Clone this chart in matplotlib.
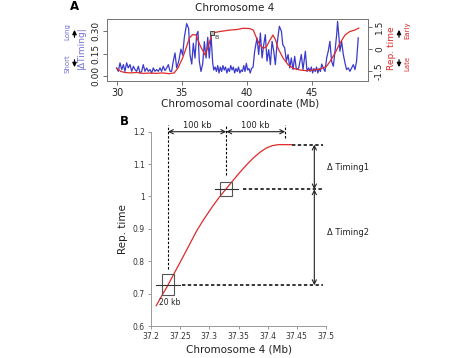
import numpy as np
import matplotlib
matplotlib.use("Agg")
import matplotlib.pyplot as plt
from matplotlib.patches import Rectangle

W, H = 474, 358

# ---------------- Panel A data ----------------
blue_x = [29.97, 30.10, 30.23, 30.36, 30.49, 30.61, 30.74, 30.87, 31.00, 31.13, 31.26, 31.38,
          31.51, 31.64, 31.77, 31.90, 32.02, 32.15, 32.28, 32.41, 32.54, 32.67, 32.79, 32.92,
          33.05, 33.18, 33.31, 33.43, 33.56, 33.69, 33.82, 33.95, 34.08, 34.20, 34.33, 34.46,
          34.59, 34.75, 34.92, 35.05, 35.18, 35.36, 35.51, 35.62, 35.75, 35.87, 36.00, 36.13,
          36.23, 36.33, 36.46, 36.59, 36.72, 36.85, 36.98, 37.10, 37.23, 37.36, 37.44,
          37.55, 37.65, 37.75, 37.85, 37.95, 38.05, 38.15, 38.25, 38.35, 38.45, 38.55, 38.65,
          38.75, 38.85, 38.95, 39.05, 39.15, 39.25, 39.35, 39.45, 39.55, 39.65, 39.75, 39.85,
          39.95, 40.05, 40.15, 40.25, 40.35, 40.47,
          40.59, 40.77, 40.90, 41.03, 41.16, 41.29, 41.41, 41.54, 41.67, 41.80, 41.93, 42.06,
          42.18, 42.31, 42.49, 42.65, 42.75, 42.90, 43.03, 43.16, 43.29, 43.41, 43.54, 43.67,
          43.80, 43.98, 44.18, 44.31, 44.49, 44.62, 44.75, 44.85, 44.95, 45.05, 45.15, 45.25,
          45.35, 45.45, 45.55, 45.65, 45.75, 45.87, 46.00, 46.13, 46.25, 46.38, 46.51, 46.64,
          46.77, 46.90, 46.97, 47.08, 47.15, 47.28, 47.41, 47.54, 47.66, 47.79, 47.92, 48.05,
          48.18, 48.31, 48.43, 48.56]
blue_y = [0.054, 0.031, 0.088, 0.043, 0.076, 0.031, 0.088, 0.054, 0.076, 0.031, 0.065, 0.043,
          0.031, 0.065, 0.020, 0.031, 0.076, 0.031, 0.054, 0.031, 0.043, 0.020, 0.054, 0.031,
          0.043, 0.031, 0.054, 0.031, 0.065, 0.036, 0.054, 0.076, 0.031, 0.031, 0.099, 0.155,
          0.054, 0.100, 0.180, 0.140, 0.260, 0.352, 0.320, 0.140, 0.080, 0.220, 0.120, 0.280,
          0.300, 0.100, 0.030, 0.080, 0.230, 0.120, 0.260, 0.120, 0.280, 0.090, 0.040,
          0.060, 0.030, 0.070, 0.020, 0.060, 0.030, 0.070, 0.040, 0.060, 0.020, 0.050, 0.030,
          0.070, 0.040, 0.060, 0.020, 0.050, 0.030, 0.060, 0.020, 0.040, 0.030, 0.070, 0.030,
          0.085, 0.040, 0.050, 0.020, 0.050, 0.060,
          0.166, 0.256, 0.144, 0.289, 0.121, 0.211, 0.278, 0.099, 0.177, 0.076, 0.233, 0.166,
          0.076, 0.211, 0.334, 0.300, 0.211, 0.189, 0.099, 0.144, 0.054, 0.121, 0.043, 0.132,
          0.043, 0.054, 0.144, 0.043, 0.166, 0.031, 0.054, 0.030, 0.060, 0.020, 0.050, 0.030,
          0.060, 0.020, 0.050, 0.030, 0.080, 0.054, 0.030, 0.121, 0.166, 0.233, 0.099, 0.065,
          0.166, 0.278, 0.367, 0.256, 0.166, 0.233, 0.144, 0.088, 0.043, 0.054, 0.031, 0.054,
          0.076, 0.043, 0.099, 0.256]

red_x = [30.0, 30.3, 30.6, 31.0, 31.5, 32.0, 32.5, 33.0, 33.5, 34.0, 34.4, 34.7, 35.05, 35.3,
         35.57, 35.82, 36.08, 36.4, 36.77, 37.0, 37.28, 37.5, 38.0, 38.7, 39.2, 39.7, 40.2,
         40.48, 40.74, 41.0, 41.25, 41.5, 41.77, 42.0, 42.2, 42.4, 42.79, 43.18, 43.56, 44.07,
         44.6, 45.1, 45.6, 46.1, 46.38, 46.77, 47.15, 47.54, 47.9, 48.3, 48.6]
red_y = [-1.35, -1.55, -1.62, -1.65, -1.62, -1.68, -1.66, -1.68, -1.65, -1.70, -1.65, -1.30,
         -0.63, 0.00, 0.73, 0.96, 0.93, 0.20, -0.43, 0.10, 0.93, 1.10, 1.18, 1.27, 1.30, 1.39,
         1.37, 1.27, 0.71, 0.25, 0.02, 0.14, 0.59, 0.93, 0.59, 0.00, -0.66, -1.11, -1.34,
         -1.45, -1.50, -1.45, -1.40, -1.22, -0.88, -0.31, 0.37, 0.93, 1.16, 1.27, 1.40]
marker_B = (37.3, 1.1)

a_xticks = [30, 35, 40, 45]
a_left_ticks = [0.00, 0.15, 0.30]
a_left_labels = ["0.00", "0.15", "0.30"]
a_right_ticks = [-1.5, 0, 1.5]
a_right_labels = ["-1.5", "0", "1.5"]

# ---------------- Panel B data ----------------
curve_x = [37.209, 37.219, 37.229, 37.239, 37.25, 37.265, 37.278, 37.29, 37.305, 37.318, 37.329,
           37.34, 37.352, 37.364, 37.376, 37.388, 37.398, 37.408, 37.418, 37.43, 37.441]
curve_y = [0.663, 0.695, 0.726, 0.760, 0.797, 0.848, 0.893, 0.928, 0.968, 1.000, 1.024,
           1.048, 1.074, 1.098, 1.120, 1.138, 1.150, 1.157, 1.160, 1.160, 1.160]
win_centers = [37.229, 37.329]      # 20 kb windows
win_values = [0.726, 1.022]
peak_x, peak_val = 37.43, 1.16
b_xticks = [37.2, 37.25, 37.3, 37.35, 37.4, 37.45, 37.5]
b_xlabels = ["37.2", "37.25", "37.3", "37.35", "37.4", "37.45", "37.5"]
b_yticks = [0.6, 0.7, 0.8, 0.9, 1.0, 1.1, 1.2]
b_ylabels = ["0.6", "0.7", "0.8", "0.9", "1", "1.1", "1.2"]


def fx(x):
    return x / W


def fy(y):
    return 1 - y / H


fig = plt.figure(figsize=(W / 100, H / 100), dpi=100)
fig.patch.set_facecolor("white")

BLUE = "#3a3acb"
LBLUE = "#6f6fd6"
RED = "#e02a2a"
GRAY = "#555555"

# ================= Panel A =================
axA = fig.add_axes([fx(107), fy(81), fx(368) - fx(107), fy(19) - fy(81)])
axA.plot(blue_x, blue_y, color=BLUE, lw=0.9)
axA.set_xlim(29.23, 49.31)
axA.set_ylim(-0.034, 0.383)
axA.set_xticks(a_xticks)
axA.set_xticklabels([str(t) for t in a_xticks], fontsize=7, color="#222222")
axA.set_yticks(a_left_ticks)
axA.set_yticklabels(a_left_labels, fontsize=6.5, rotation=90, va="center", color="#222222")
axA.tick_params(axis="both", length=3, width=0.6, color=GRAY, pad=2)
for s in axA.spines.values():
    s.set_color("#777777")
    s.set_linewidth(0.7)

axR = axA.twinx()
axR.plot(red_x, red_y, color=RED, lw=0.9)
axR.plot([marker_B[0]], [marker_B[1]], marker="s", ms=3.5, mfc="#bbbbbb", mec="#333333", mew=0.6)
axR.text(marker_B[0] + 0.2, marker_B[1] - 0.45, "B", fontsize=4.5, color="#333333")
axR.set_ylim(-2.2, 2.02)
axR.set_yticks(a_right_ticks)
axR.set_yticklabels(a_right_labels, fontsize=6.5, rotation=90, va="center", color="#222222")
axR.tick_params(axis="y", length=3, width=0.6, color=GRAY, pad=2)
for s in axR.spines.values():
    s.set_color("#777777")
    s.set_linewidth(0.7)

fig.text(fx(235), fy(8), "Chromosome 4", ha="center", va="center", fontsize=7.5, color="#222222")
fig.text(fx(74), fy(6), "A", ha="center", va="center", fontsize=8.5, fontweight="bold")
fig.text(fx(240), fy(104), "Chromosomal coordinate (Mb)", ha="center", va="center",
         fontsize=7.5, color="#222222")

# left side labels
fig.text(fx(81), fy(48), "|\u0394Timing|", rotation=90, ha="center", va="center",
         fontsize=6.5, color=LBLUE)
fig.text(fx(67), fy(32), "Long", rotation=90, ha="center", va="center", fontsize=5, color=LBLUE)
fig.text(fx(67), fy(64), "Short", rotation=90, ha="center", va="center", fontsize=5, color=LBLUE)
# right side labels
fig.text(fx(392), fy(48), "Rep. time", rotation=90, ha="center", va="center",
         fontsize=6.5, color=RED)
fig.text(fx(407), fy(30), "Early", rotation=90, ha="center", va="center", fontsize=5, color=RED)
fig.text(fx(407), fy(63), "Late", rotation=90, ha="center", va="center", fontsize=5, color=RED)

arrow_kw = dict(arrowstyle="-|>,head_length=0.25,head_width=0.12", color="black", lw=0.9)
for xx, y0, y1 in [(74.5, 40, 27), (74.5, 57, 70), (399, 40, 27), (399, 57, 70)]:
    fig.add_artist(matplotlib.patches.FancyArrowPatch(
        (fx(xx), fy(y0)), (fx(xx), fy(y1)), transform=fig.transFigure,
        mutation_scale=10, **arrow_kw))

# ================= Panel B =================
axB = fig.add_axes([fx(151), fy(326), fx(326) - fx(151), fy(131.7) - fy(326)])
axB.plot(curve_x, curve_y, color=RED, lw=0.9, zorder=3)
axB.set_xlim(37.2, 37.5)
axB.set_ylim(0.6, 1.2)
axB.set_xticks(b_xticks)
axB.set_xticklabels(b_xlabels, fontsize=5.5, color="#333333")
axB.set_yticks(b_yticks)
axB.set_yticklabels(b_ylabels, fontsize=5.5, color="#333333")
axB.tick_params(axis="both", length=2.5, width=0.6, color="#888888", pad=2)
for side in ["top", "right"]:
    axB.spines[side].set_visible(False)
for side in ["left", "bottom"]:
    axB.spines[side].set_color("#999999")
    axB.spines[side].set_linewidth(0.7)
axB.set_xlabel("Chromosome 4 (Mb)", fontsize=7.5, labelpad=2, color="#222222")
axB.set_ylabel("Rep. time", fontsize=7.5, labelpad=3, color="#222222")
fig.text(fx(124), fy(122), "B", ha="center", va="center", fontsize=8.5, fontweight="bold")

# 20 kb windows
for cx, cv in zip(win_centers, win_values):
    lo = np.interp(cx - 0.01, curve_x, curve_y)
    hi = np.interp(cx + 0.01, curve_x, curve_y)
    axB.add_patch(Rectangle((cx - 0.01, lo), 0.02, hi - lo, fill=False,
                            ec="#555555", lw=0.8, zorder=4))
    axB.plot([cx - 0.02, cx + 0.02], [cv, cv], color="#333333", lw=0.8, zorder=4)
axB.text(win_centers[0] + 0.003, win_values[0] - 0.052, "20 kb", fontsize=5.5,
         ha="center", va="center", color="#222222")

dash = (0, (2.2, 1.6))
top_y = 1.22
# vertical dashed lines
axB.plot([win_centers[0], win_centers[0]], [0.775, top_y], color="black", lw=0.8,
         ls=dash, clip_on=False)
axB.plot([win_centers[1], win_centers[1]], [1.066, top_y], color="black", lw=0.8,
         ls=dash, clip_on=False)
axB.plot([peak_x, peak_x], [1.18, top_y], color="black", lw=0.8, ls=dash, clip_on=False)
# 100 kb arrows
for x0, x1 in [(win_centers[0], win_centers[1]), (win_centers[1], peak_x)]:
    axB.annotate("", xy=(x0, 1.2), xytext=(x1, 1.2),
                 arrowprops=dict(arrowstyle="<->,head_length=0.3,head_width=0.15",
                                 color="#222222", lw=0.8, shrinkA=0, shrinkB=0),
                 annotation_clip=False)
    axB.text((x0 + x1) / 2, 1.218, "100 kb", ha="center", va="center", fontsize=6,
             color="#222222")

# horizontal dashed lines
x_end = 37.494
axB.plot([37.441, x_end], [peak_val, peak_val], color="black", lw=1.1, ls=dash, clip_on=False)
axB.plot([37.357, x_end], [win_values[1], win_values[1]], color="black", lw=1.1, ls=dash,
         clip_on=False)
axB.plot([37.254, x_end], [win_values[0], win_values[0]], color="black", lw=1.1, ls=dash,
         clip_on=False)

# timing arrows
xa = 37.48
for y0, y1 in [(peak_val, win_values[1]), (win_values[1], win_values[0])]:
    axB.annotate("", xy=(xa, y0), xytext=(xa, y1),
                 arrowprops=dict(arrowstyle="<->,head_length=0.3,head_width=0.15",
                                 color="#222222", lw=0.8, shrinkA=0, shrinkB=0),
                 annotation_clip=False)
axB.text(37.502, 1.09, "\u0394 Timing1", fontsize=6, va="center", ha="left", color="#222222")
axB.text(37.502, 0.89, "\u0394 Timing2", fontsize=6, va="center", ha="left", color="#222222")

fig.savefig("out.png", dpi=100, facecolor="white")
